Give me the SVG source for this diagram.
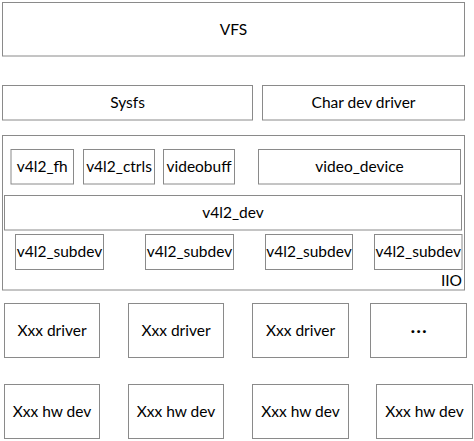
<svg xmlns="http://www.w3.org/2000/svg" width="474" height="441" viewBox="0 0 474 441">
<style>
rect{fill:#fff;stroke:#8a8a8a;stroke-width:1}
text{font-family:Lato,"Open Sans","Liberation Sans",sans-serif;font-size:15.5px;fill:#000;text-anchor:middle}
</style>
<rect x="0" y="0" width="474" height="441" style="stroke:none"/>
<g id="vfs"><rect x="2.5" y="2.5" width="462" height="53.5"/><text x="233.5" y="35">VFS</text></g>
<g id="sysfs"><rect x="2.5" y="85.5" width="250" height="34.5"/><text x="127.5" y="108">Sysfs</text></g>
<g id="chardev"><rect x="262.5" y="85.5" width="202" height="34.5"/><text x="363.5" y="108">Char dev driver</text></g>
<g id="iio"><rect x="2.5" y="135.5" width="462" height="154.5"/><text x="462" y="286" style="text-anchor:end">IIO</text></g>
<g id="v4l2_fh"><rect x="11" y="149.5" width="62.5" height="34.5"/><text x="42.2" y="172">v4l2_fh</text></g>
<g id="v4l2_ctrls"><rect x="83.5" y="149.5" width="71" height="34.5"/><text x="119" y="172">v4l2_ctrls</text></g>
<g id="videobuff"><rect x="163.5" y="149.5" width="71" height="34.5"/><text x="199" y="172">videobuff</text></g>
<g id="video_device"><rect x="258.5" y="149.5" width="202" height="34.5"/><text x="359.5" y="172">video_device</text></g>
<g id="v4l2_dev"><rect x="4.5" y="195.5" width="457" height="34.5"/><text x="233" y="218">v4l2_dev</text></g>
<g id="subdev1"><rect x="15.5" y="234.5" width="88" height="35"/><text x="59.5" y="257">v4l2_subdev</text></g>
<g id="subdev2"><rect x="145.5" y="234.5" width="88" height="35"/><text x="189.5" y="257">v4l2_subdev</text></g>
<g id="subdev3"><rect x="265.5" y="234.5" width="87" height="35"/><text x="309" y="257">v4l2_subdev</text></g>
<g id="subdev4"><rect x="374.5" y="234.5" width="87.5" height="35"/><text x="418.2" y="257">v4l2_subdev</text></g>
<g id="driver1"><rect x="4.5" y="303.5" width="95" height="54"/><text x="52" y="335.5">Xxx driver</text></g>
<g id="driver2"><rect x="128.5" y="303.5" width="95" height="54"/><text x="176" y="335.5">Xxx driver</text></g>
<g id="driver3"><rect x="252.5" y="303.5" width="96" height="54"/><text x="300.5" y="335.5">Xxx driver</text></g>
<g id="driver4"><rect x="370.5" y="303.5" width="96" height="54"/><text x="419.5" y="335.5" style="font-weight:bold;letter-spacing:1.5px">···</text></g>
<g id="hw1"><rect x="4.5" y="384.5" width="95" height="54"/><text x="52" y="416.5">Xxx hw dev</text></g>
<g id="hw2"><rect x="128.5" y="384.5" width="95" height="54"/><text x="176" y="416.5">Xxx hw dev</text></g>
<g id="hw3"><rect x="252.5" y="384.5" width="96" height="54"/><text x="300.5" y="416.5">Xxx hw dev</text></g>
<g id="hw4"><rect x="376.5" y="384.5" width="96" height="54"/><text x="424.5" y="416.5">Xxx hw dev</text></g>
<g id="connectors"></g>
</svg>
